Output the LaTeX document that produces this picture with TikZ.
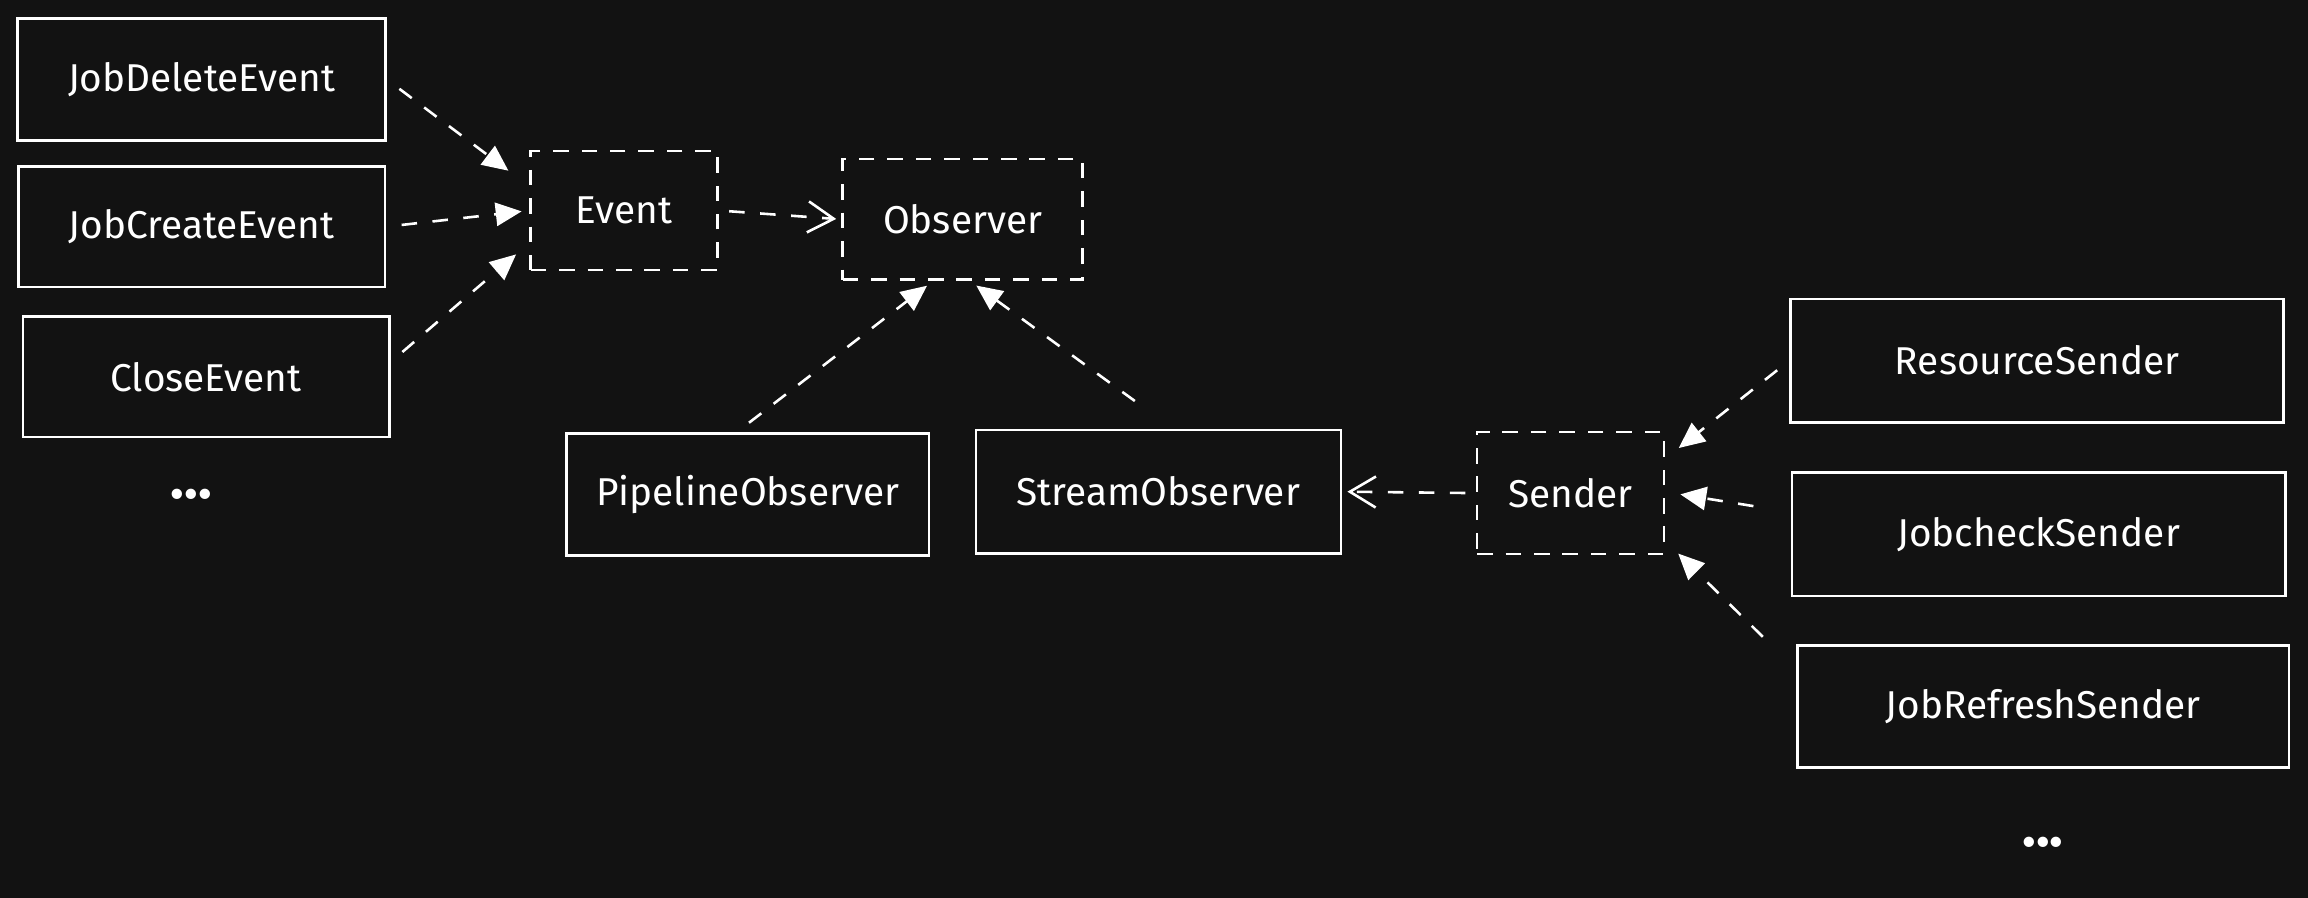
\documentclass[tikz,border=0pt]{standalone}
\usepackage{fontspec}
\setmainfont{Fira Sans}
\usetikzlibrary{arrows.meta}
\definecolor{bg}{HTML}{121212}
\begin{document}
\begin{tikzpicture}[x=0.02cm,y=-0.02cm,
  box/.style={draw=white,line width=1pt,text=white,font=\fontsize{15}{18}\selectfont,inner sep=0pt},
  dbox/.style={box,dashed,dash pattern=on 6pt off 5pt},
  inh/.style={draw=white,line width=1pt,dash pattern=on 6pt off 6pt,-{Triangle[length=10pt,width=9pt,fill=white]},shorten >=3pt,shorten <=6pt},
  dep/.style={draw=white,line width=1pt,dash pattern=on 6pt off 6pt,-{Straight Barb[length=10pt,width=12pt]},shorten >=2pt,shorten <=4pt},
  dots/.style={text=white,font=\fontsize{22}{22}\selectfont\bfseries}]
\fill[bg] (0,0) rectangle (1568,610);
\useasboundingbox (0,0) rectangle (1568,610);
\node[box,minimum width=250*0.02cm,minimum height=83*0.02cm] (jd) at (137,54) {JobDeleteEvent};
\node[box,minimum width=249*0.02cm,minimum height=82*0.02cm] (jce) at (137,154) {JobCreateEvent};
\node[box,minimum width=249*0.02cm,minimum height=82*0.02cm] (ce) at (140,256) {CloseEvent};
\node[dots] (d1) at (130,336) {...};
\node[dbox,minimum width=127*0.02cm,minimum height=81*0.02cm] (ev) at (424,143) {Event};
\node[dbox,minimum width=163*0.02cm,minimum height=82*0.02cm] (ob) at (654,149) {Observer};
\node[box,minimum width=246*0.02cm,minimum height=83*0.02cm] (po) at (508,336) {PipelineObserver};
\node[box,minimum width=248*0.02cm,minimum height=84*0.02cm] (so) at (787,334) {StreamObserver};
\node[dbox,minimum width=127*0.02cm,minimum height=83*0.02cm] (sd) at (1067,335) {Sender};
\node[box,minimum width=335*0.02cm,minimum height=84*0.02cm] (rs) at (1384,245) {ResourceSender};
\node[box,minimum width=335*0.02cm,minimum height=84*0.02cm] (jc) at (1385,363) {JobcheckSender};
\node[box,minimum width=334*0.02cm,minimum height=83*0.02cm] (jr) at (1388,480) {JobRefreshSender};
\node[dots] (d2) at (1388,572) {...};
\draw[inh] (jd.east) -- ([xshift=-0.2cm,yshift=-0.35cm]ev.north west);
\draw[inh] (jce.east) -- (ev.west);
\draw[inh] ([yshift=0.2cm]ce.east) -- ([xshift=-0.1cm,yshift=0.3cm]ev.south west);
\draw[dep] (ev.east) -- (ob.west);
\draw[inh] ([xshift=-0.15cm]po.north) -- ([xshift=-0.4cm]ob.south);
\draw[inh] ([xshift=-0.15cm,yshift=0.25cm]so.north) -- ([xshift=0.1cm]ob.south);
\draw[dep] (sd.west) -- (so.east);
\draw[inh] (rs.west) -- ([xshift=0.1cm,yshift=-0.3cm]sd.north east);
\draw[inh] ([xshift=-0.3cm,yshift=0.35cm]jc.west) -- ([xshift=0.1cm]sd.east);
\draw[inh] ([xshift=-0.3cm,yshift=0.8cm]jr.west) -- ([xshift=0.1cm,yshift=0.1cm]sd.south east);
\end{tikzpicture}
\end{document}
